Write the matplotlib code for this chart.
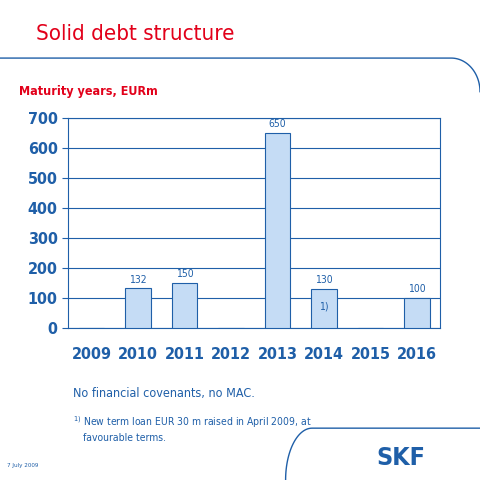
import numpy as np
import matplotlib
matplotlib.use("Agg")
import matplotlib.pyplot as plt

plt.rcParams["font.family"] = ["DejaVu Sans"]
plt.rcParams["font.stretch"] = "condensed"

years = ["2009", "2010", "2011", "2012", "2013", "2014", "2015", "2016"]
amounts = [0, 132, 150, 0, 650, 130, 0, 100]
labels = ["", "132", "150", "", "650", "130", "", "100"]

blue = "#1f5fa8"
red = "#e2001a"
fill = "#c5dcf5"

fig = plt.figure(figsize=(4.8, 4.8), dpi=100)

# decorative frame lines (figure coords)
t = np.linspace(0, np.pi / 2, 30)
fx = np.concatenate([[0, 0.94], 0.94 + 0.06 * np.sin(t)])
fy = np.concatenate([[0.879, 0.879], 0.879 - 0.07 * (1 - np.cos(t))])
fig.add_artist(plt.Line2D(fx, fy, color=blue, lw=1))
bx = np.concatenate([0.595 + 0.055 * (1 - np.cos(t)), [1.0]])
by = np.concatenate([0.108 * np.sin(t), [0.108]])
fig.add_artist(plt.Line2D(bx, by, color=blue, lw=1))

fig.text(0.075, 0.93, "Solid debt structure", color=red, fontsize=16, va="center")
fig.text(0.04, 0.81, "Maturity years, EURm", color=red, fontsize=9,
         fontweight="bold", va="center")

ax = fig.add_axes([0.142, 0.317, 0.775, 0.437])
x = np.arange(len(years))
ax.bar(x, amounts, width=0.55, color=fill, edgecolor=blue, linewidth=0.8, zorder=3)
for xi, v, lab in zip(x, amounts, labels):
    if lab:
        ax.text(xi, v + 12, lab, ha="center", va="bottom", color=blue, fontsize=7.5)
ax.text(5, 70, "1)", ha="center", va="center", color=blue, fontsize=7.5)

ax.set_xlim(-0.5, 7.5)
ax.set_ylim(0, 700)
ax.set_yticks(range(0, 701, 100))
ax.set_xticks(x)
ax.set_xticklabels(years)
ax.grid(axis="y", color=blue, lw=0.8, zorder=0)
for s in ax.spines.values():
    s.set_color(blue)
    s.set_linewidth(0.8)
ax.tick_params(axis="y", colors=blue, labelsize=11.5, length=4, width=0.8)
ax.tick_params(axis="x", colors=blue, labelsize=11.5, length=0, pad=14)
for lab in ax.get_xticklabels() + ax.get_yticklabels():
    lab.set_fontweight("bold")

fig.text(0.153, 0.18, "No financial covenants, no MAC.", color=blue, fontsize=9, va="center")
fig.text(0.153, 0.12, "$^{1)}$ New term loan EUR 30 m raised in April 2009, at",
         color=blue, fontsize=7.5, va="center")
fig.text(0.173, 0.088, "favourable terms.", color=blue, fontsize=7.5, va="center")
fig.text(0.015, 0.03, "7 July 2009", color=blue, fontsize=4.5, va="center")
fig.text(0.835, 0.045, "SKF", color=blue, fontsize=18, fontweight="bold",
         va="center", ha="center")

fig.savefig("out.png", dpi=100)
